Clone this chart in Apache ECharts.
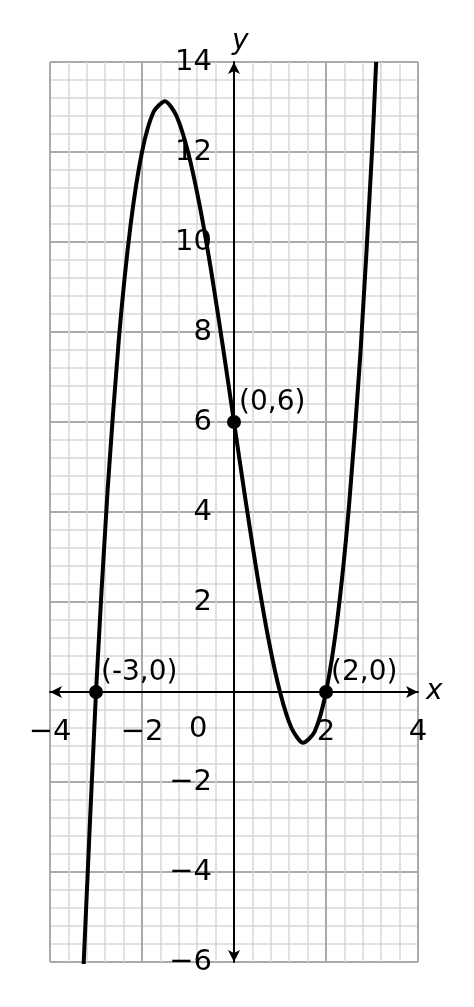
<!DOCTYPE html>
<html><head><meta charset="utf-8">
<script src="https://cdn.jsdelivr.net/npm/echarts@6/dist/echarts.min.js"></script>
<style>html,body{margin:0;padding:0;background:#fff}#c{width:474px;height:1007px}</style>
</head><body><div id="c"></div>
<script>
const curveX = [-3.27,-3,-2.75,-2.5,-2.25,-2,-1.75,-1.5,-1.25,-1,-0.75,-0.5,-0.25,0,0.25,0.5,0.75,1,1.25,1.5,1.75,2,2.25,2.5,2.75,3,3.09];
const curveY = [-6.08,0,4.45,7.88,10.36,12,12.89,13.13,12.8,12,10.83,9.38,7.73,6,4.27,2.63,1.17,0,-0.8,-1.13,-0.89,0,1.64,4.13,7.55,12,14];
const points = [[-3,0],[0,6],[2,0]];
const pointLabels = ['(-3,0)','(0,6)','(2,0)'];
const chart = echarts.init(document.getElementById('c'));
const font = 'DejaVu Sans';
chart.setOption({
  animation:false,
  grid:{left:50,right:56,top:62,bottom:45},
  xAxis:{type:'value',min:-4,max:4,interval:2,
    axisLine:{onZero:true,symbol:['arrow','arrow'],symbolSize:[9,12],lineStyle:{color:'#000',width:2}},
    axisTick:{show:false},
    axisLabel:{fontFamily:font,fontSize:29,color:'#000',margin:-244,showMinLabel:true,showMaxLabel:true,
      formatter:v=>v===0?'':(v<0?'−'+Math.abs(v):''+v)},
    splitLine:{show:true,lineStyle:{color:'#aaa',width:2}},
    minorTick:{show:false,splitNumber:5},
    minorSplitLine:{show:true,lineStyle:{color:'#d8d8d8',width:1.5}},
    name:'x',nameLocation:'end',nameGap:8,nameTextStyle:{fontFamily:font,fontSize:28,fontStyle:'italic',color:'#000',verticalAlign:'middle'}},
  yAxis:{type:'value',min:-6,max:14,interval:2,
    axisLine:{onZero:true,symbol:['arrow','arrow'],symbolSize:[9,12],lineStyle:{color:'#000',width:2}},
    axisTick:{show:false},
    axisLabel:{fontFamily:font,fontSize:29,color:'#000',margin:-162,
      formatter:v=>v===0?'':(v<0?'−'+Math.abs(v):''+v)},
    splitLine:{show:true,lineStyle:{color:'#aaa',width:2}},
    minorTick:{show:false,splitNumber:5},
    minorSplitLine:{show:true,lineStyle:{color:'#d8d8d8',width:1.5}},
    name:'y',nameLocation:'end',nameGap:6,nameTextStyle:{fontFamily:font,fontSize:28,fontStyle:'italic',color:'#000',align:'left',padding:[0,0,0,-2]}},
  graphic:[{type:'text',left:189,top:715,z:100,style:{text:'0',fontFamily:font,fontSize:29,fill:'#000',stroke:null,lineWidth:0}}],
  series:[
    {type:'line',data:curveX.map((x,i)=>[x,curveY[i]]),smooth:0.25,showSymbol:false,
     lineStyle:{color:'#000',width:4},clip:true},
    {type:'scatter',data:points,symbolSize:14,itemStyle:{color:'#000',opacity:1},
     label:{show:true,position:[12,-26],fontFamily:font,fontSize:28,color:'#000',
       formatter:p=>pointLabels[p.dataIndex]}}
  ]
});
</script></body></html>
